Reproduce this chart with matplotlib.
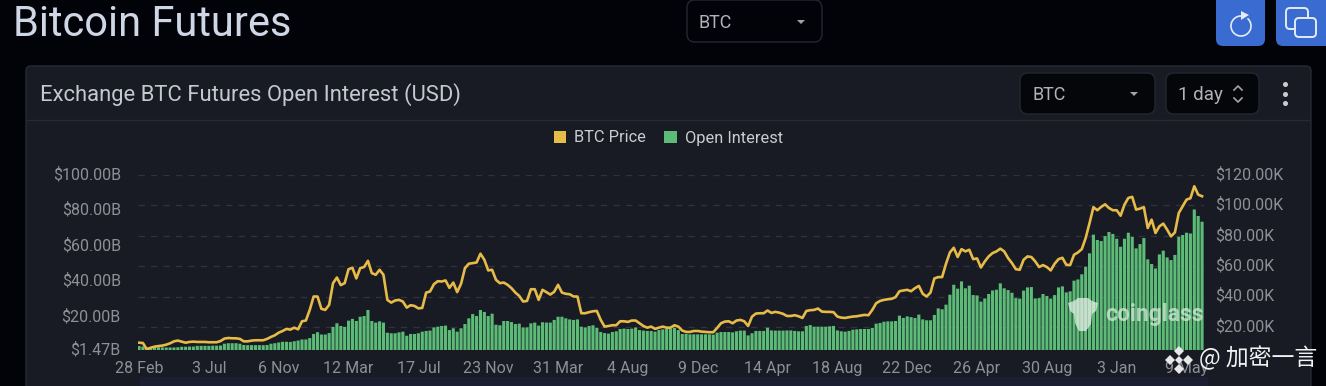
import numpy as np
import matplotlib
matplotlib.use('Agg')
import matplotlib.pyplot as plt
from matplotlib.patches import FancyBboxPatch, Rectangle, Polygon, Arc, Patch
from matplotlib.transforms import ScaledTranslation

# --- Values (one point per week) ---
open_interest_1 = [3.7, 3.4, 3.0, 3.0, 3.0, 3.0, 2.9, 2.9, 2.9, 2.9, 3.0, 3.3, 3.3, 3.4, 3.4,
                   3.8, 3.8, 3.8, 3.8, 3.9, 3.9, 4.0, 5.0, 5.3, 5.3, 5.3, 5.0, 4.3, 4.2, 4.2,
                   4.2, 4.2, 4.2, 4.3, 5.0, 5.3, 5.7, 6.1, 6.1, 6.0, 6.4, 6.8, 7.4, 7.4, 8.2,
                   10.5, 11.5, 10.2, 10.2, 11.0, 14.5, 16.5, 15.0, 14.5, 18.0, 19.0, 17.8]
open_interest_2 = [20.2, 20.6, 24.0, 17.8, 16.9, 17.6, 16.9, 11.2, 10.9, 10.9, 11.4, 11.8, 9.5, 10.5,
                   10.5, 10.9, 11.8, 12.2, 12.4, 14.2, 14.6, 15.0, 15.2, 12.7, 13.7, 11.8, 13.7, 16.1,
                   19.3, 21.7, 20.6, 24.0, 22.9, 20.6, 21.9, 15.7, 15.4, 17.8, 17.8, 17.2, 16.1, 16.3,
                   14.2, 14.2, 16.5, 16.9, 15.2, 17.1, 16.9, 16.9, 18.4, 20.2, 20.2, 19.3, 18.7, 18.4,
                   18.7, 14.6, 14.2, 15.0, 15.4, 14.0, 11.6, 11.0, 10.7, 11.6, 12.0, 13.3, 13.5, 13.3,
                   13.5, 14.2, 12.7, 12.4, 12.2, 12.2, 11.8, 12.7, 13.1, 13.5, 13.5, 14.0, 12.7]
open_interest_3 = [10.5, 10.5, 10.3, 10.3, 10.3, 10.3, 10.3, 10.3, 10.1, 11.2, 11.6, 11.6, 11.6, 11.4,
                   12.0, 12.4, 12.4, 9.7, 10.9, 12.2, 12.2, 12.2, 14.0, 12.5, 12.4, 12.4, 12.4, 12.5,
                   12.5, 12.2, 12.0, 12.0, 15.0, 15.5, 14.6, 14.6, 14.6, 14.6, 14.8, 15.0, 12.5, 12.0,
                   11.8, 12.2, 12.9, 13.1, 13.3, 13.3, 13.3, 13.9, 16.3, 16.7, 17.4, 17.6, 17.6, 17.8,
                   20.8, 19.5, 20.4, 20.0, 19.5, 21.4, 18.7, 18.2, 18.2, 21.2, 24.9, 24.4, 27.0, 32.6,
                   38.2, 36.0, 40.1, 36.2, 37.7, 32.4, 32.2, 28.7, 30.5, 33.0, 35.0, 35.4]
open_interest_4 = [39.0, 36.2, 35.2, 33.7, 30.7, 30.4, 34.9, 36.7, 36.9, 30.5, 30.7, 33.0, 31.9, 30.4,
                   32.4, 36.7, 37.3, 33.9, 34.5, 40.5, 41.2, 44.1, 48.4, 55.9, 66.4, 63.4, 62.8, 65.6,
                   67.9, 66.8, 64.1, 59.6, 64.1, 67.5, 65.2, 58.7, 61.1, 64.5, 52.5, 49.9, 47.4, 55.3,
                   57.4, 53.6, 52.1, 55.0, 65.2, 66.2, 67.5, 67.1, 80.6, 76.9, 73.7]

btc_price_1 = [9.6, 9.4, 5.2, 6.3, 7.0, 7.4, 7.7, 8.3, 9.2, 10.5, 11.0, 10.3, 9.6, 10.1, 10.3,
               10.1, 10.1, 10.1, 9.9, 9.9, 9.9, 10.7, 12.3, 12.7, 12.5, 12.5, 12.1, 10.5, 10.5, 11.0,
               11.2, 11.2, 11.2, 12.1, 13.4, 14.5, 16.2, 17.3, 18.7, 18.2, 19.5, 18.4, 23.7, 24.2, 31.2,
               40.0, 40.0, 31.9, 31.2, 34.5, 48.8, 52.5, 47.5, 48.8, 58.0, 58.9, 51.9]
btc_price_2 = [58.7, 59.4, 63.5, 55.4, 54.3, 57.6, 54.3, 37.8, 36.0, 37.4, 37.8, 36.7, 32.7, 34.3,
               33.8, 32.2, 32.5, 42.6, 43.3, 48.1, 50.1, 49.9, 50.6, 45.7, 49.2, 42.9, 48.4, 58.7,
               61.6, 62.0, 62.4, 68.2, 64.2, 57.2, 57.6, 51.0, 48.8, 49.2, 47.7, 45.5, 42.6, 40.4,
               36.7, 37.1, 44.8, 44.8, 37.8, 44.4, 42.9, 41.3, 43.1, 47.7, 42.6, 41.8, 41.5, 40.0,
               40.0, 29.0, 29.0, 29.7, 30.3, 30.5, 24.6, 20.2, 20.6, 21.1, 21.1, 23.7, 23.7, 23.3,
               24.2, 24.2, 22.4, 20.6, 19.5, 20.2, 18.7, 19.5, 20.2, 19.5, 19.5, 21.1, 20.2]
btc_price_3 = [17.6, 16.7, 16.7, 17.3, 17.3, 16.9, 16.7, 16.5, 16.5, 19.3, 22.4, 23.5, 23.7, 22.4,
               24.2, 24.6, 23.7, 20.6, 26.8, 28.8, 29.0, 29.0, 30.8, 29.2, 29.9, 29.4, 28.6, 27.2,
               27.2, 27.7, 27.0, 25.9, 30.5, 31.0, 31.2, 32.1, 30.1, 29.9, 29.9, 29.7, 26.8, 26.1,
               25.9, 26.4, 26.8, 27.0, 27.5, 27.9, 27.7, 31.2, 35.6, 37.1, 37.8, 38.2, 38.5, 39.6,
               43.5, 44.0, 44.4, 43.5, 45.5, 47.0, 41.8, 40.0, 42.6, 51.9, 52.8, 52.8, 61.6, 69.0,
               72.1, 66.0, 71.2, 69.7, 70.8, 64.6, 65.1, 59.1, 63.1, 66.4, 68.6, 69.7]
btc_price_4 = [71.5, 69.7, 65.3, 62.0, 58.0, 57.6, 64.2, 66.4, 66.0, 63.1, 59.4, 60.7, 59.4, 57.2,
               61.6, 64.6, 65.5, 60.9, 60.7, 67.5, 69.0, 71.2, 78.5, 88.4, 98.8, 96.8, 99.0, 100.7,
               98.3, 96.8, 96.8, 93.2, 100.5, 104.9, 105.6, 97.2, 97.9, 98.8, 85.1, 90.6, 81.8, 86.2,
               88.0, 84.0, 79.6, 82.2, 95.0, 99.4, 103.8, 104.7, 112.6, 107.1, 106.0]

date_labels = ['28 Feb', '3 Jul', '6 Nov', '12 Mar', '17 Jul', '23 Nov', '31 Mar', '4 Aug',
               '9 Dec', '14 Apr', '18 Aug', '22 Dec', '26 Apr', '30 Aug', '3 Jan', '9 May']
oi_ticks = [1.47, 20, 40, 60, 80, 100]
price_ticks = [20, 40, 60, 80, 100, 120]

open_interest = open_interest_1 + open_interest_2 + open_interest_3 + open_interest_4
btc_price = btc_price_1 + btc_price_2 + btc_price_3 + btc_price_4

W, H = 1326, 386
plt.rcParams['font.family'] = ['Roboto', 'Noto Sans CJK SC', 'DejaVu Sans']

PAGE = '#020308'
CARD = '#181b23'
BORDER = '#262a32'
GRID = '#30333c'
TICK = '#8d9096'
GREEN = '#5cbb77'
GOLD = '#e6bb48'
BLUE = '#3a6bd0'
ICON = '#e4ebf8'

fig = plt.figure(figsize=(W / 100, H / 100), dpi=100, facecolor=PAGE)


def box(ax, x0, y0, x1, y1, fc, ec='none', r=6, lw=1):
    ax.add_patch(FancyBboxPatch((x0 + r, y0 + r), x1 - x0 - 2 * r, y1 - y0 - 2 * r,
                                boxstyle=f'round,pad={r},rounding_size={r}',
                                fc=fc, ec=ec, lw=lw))


# --- Page furniture, in pixel coordinates ---
bg = fig.add_axes([0, 0, 1, 1], zorder=0)
bg.set_xlim(0, W)
bg.set_ylim(H, 0)
bg.axis('off')

box(bg, 26, 66, 1311, 420, CARD, BORDER, r=5)
bg.plot([27, 1310], [120, 120], color=BORDER, lw=1)
bg.add_patch(Rectangle((140, 377), 1068, 9, fc='#1b1d30', ec='none'))
bg.text(13, 25, 'Bitcoin Futures', color='#cfd7e6', fontsize=30, va='center', ha='left')
bg.text(40, 95, 'Exchange BTC Futures Open Interest (USD)', color='#c4c8cf', fontsize=15.8, va='center')

box(bg, 687, 0, 822, 42, PAGE, '#24272f', r=8)
bg.text(699, 23, 'BTC', color='#b0b3b9', fontsize=13, va='center')
bg.add_patch(Polygon([[797, 20], [805, 20], [801, 24]], fc='#a0a3a8'))
box(bg, 1020, 73, 1155, 114, '#050609', '#24272f', r=8)
bg.text(1032, 95, 'BTC', color='#b0b3b9', fontsize=13, va='center')
bg.add_patch(Polygon([[1130, 92], [1138, 92], [1134, 96]], fc='#a0a3a8'))
box(bg, 1166, 73, 1259, 114, '#050609', '#24272f', r=8)
bg.text(1178, 95, '1 day', color='#b0b3b9', fontsize=13.5, va='center')
bg.plot([1234, 1238, 1242], [90, 86, 90], color='#a0a3a8', lw=1.2)
bg.plot([1234, 1238, 1242], [98, 102, 98], color='#a0a3a8', lw=1.2)
bg.plot([1285, 1285, 1285], [84, 94, 103], 'o', color='#c8cbd0', ms=2.6)

box(bg, 1216, -6, 1265, 46, BLUE, r=7)
box(bg, 1276, -6, 1334, 46, BLUE, r=7)
bg.add_patch(Arc((1241, 26), 20, 20, theta1=-50, theta2=270, color=ICON, lw=1.2))
bg.add_patch(Polygon([[1241, 11], [1241, 20], [1249, 15]], fc=ICON))
box(bg, 1286, 8, 1308, 29, 'none', ICON, r=4, lw=1.4)
box(bg, 1295, 18, 1316, 37, BLUE, ICON, r=4, lw=1.4)

# --- Chart ---
x = np.arange(len(open_interest))
left = 137.5
right = 1204
top = 175
bottom = 350
rect = [left / W, 1 - bottom / H, (right - left) / W, (bottom - top) / H]

# grid follows the price axis but sits behind the bars
grid_ax = fig.add_axes(rect, zorder=1)
grid_ax.patch.set_alpha(0)
grid_ax.set_xlim(-0.4, 274.5)
grid_ax.set_ylim(4.8, 120)
grid_ax.set_yticks(price_ticks)
grid_ax.set_xticks([])
grid_ax.tick_params(axis='y', length=0, labelleft=False)
grid_ax.grid(axis='y', color=GRID, lw=0.9, ls=(0, (5, 5)))

ax = fig.add_axes(rect, zorder=2)
ax.patch.set_alpha(0)
ax.bar(x, open_interest, width=0.8, color=GREEN, zorder=2, snap=False)
ax.set_xlim(-0.4, 274.5)
ax.set_ylim(1.47, 100)
ax.set_yticks(oi_ticks)
ax.set_yticklabels([f'${v:.2f}B' for v in oi_ticks])
ax.set_xticks(x[::18])
ax.set_xticklabels(date_labels)
ax.tick_params(axis='y', length=0, pad=12, labelcolor=TICK, labelsize=11.5)
ax.tick_params(axis='x', length=0, pad=8, labelcolor=TICK, labelsize=11.5)

ax2 = ax.twinx()
ax2.set_zorder(3)
ax2.patch.set_alpha(0)
ax2.plot(x, btc_price, color=GOLD, lw=1.9, zorder=3, solid_joinstyle='round')
ax2.set_ylim(4.8, 120)
ax2.set_yticks(price_ticks)
ax2.set_yticklabels([f'${v:.2f}K' for v in price_ticks])
ax2.tick_params(axis='y', length=0, pad=8, labelcolor=TICK, labelsize=11.5)

up = ScaledTranslation(0, 2 / 100, fig.dpi_scale_trans)
for a in (ax, ax2):
    for lab in a.get_yticklabels():
        lab.set_transform(lab.get_transform() + up)
for a in (grid_ax, ax, ax2):
    for s in a.spines.values():
        s.set_visible(False)

handles = [Patch(fc=GOLD, label='BTC Price'), Patch(fc=GREEN, label='Open Interest')]
fig.legend(handles=handles, loc='center', bbox_to_anchor=(668.5 / W, 1 - 138 / H), ncol=2,
           frameon=False, fontsize=11.8, labelcolor='#c9ccd1', handlelength=0.75, handleheight=0.75,
           handletextpad=0.5, columnspacing=1.1)

# --- Watermarks on top ---
over = fig.add_axes([0, 0, 1, 1], zorder=5)
over.set_xlim(0, W)
over.set_ylim(H, 0)
over.axis('off')
over.patch.set_alpha(0)
over.add_patch(Polygon([[1068, 303], [1074, 301], [1078, 298], [1088, 298], [1092, 301], [1098, 303],
                        [1096, 311], [1092, 314], [1091, 324], [1086, 331], [1079, 331], [1075, 323],
                        [1074, 314], [1070, 311]], fc='#e8f3ea', alpha=0.72, ec='none'))
over.text(1105, 314, 'coinglass', color='#d9ecdd', alpha=0.72, fontsize=16.5, fontweight='bold',
          va='center', ha='left')

cx, cy = 1179, 360
for dx, dy, s in [(0, -9, 5), (-9, 0, 5), (9, 0, 5), (0, 9, 5), (0, 0, 4)]:
    over.add_patch(Polygon([[cx + dx, cy + dy - s], [cx + dx + s, cy + dy],
                            [cx + dx, cy + dy + s], [cx + dx - s, cy + dy]], fc='#e8e8e8'))
over.text(1199, 358, '@ 加密一言', color='#f2f2f2', fontsize=16.5, va='center', ha='left',
          family=['Noto Sans CJK SC', 'DejaVu Sans'])

fig.savefig('out.png', dpi=100, facecolor=PAGE)
